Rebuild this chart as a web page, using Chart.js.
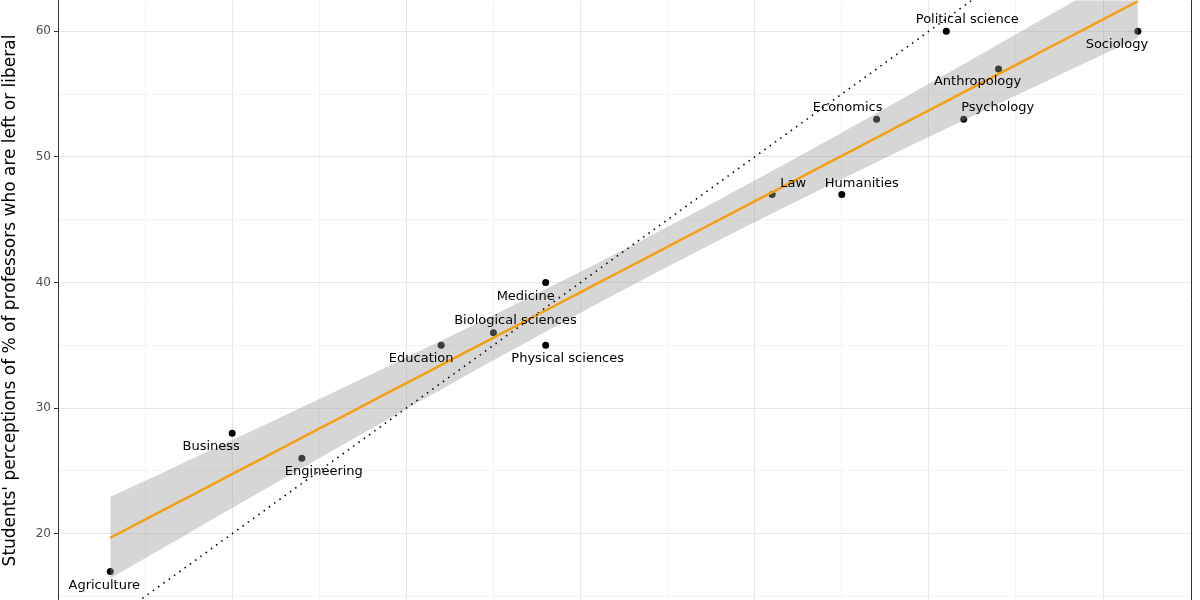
<!DOCTYPE html>
<html>
<head>
<meta charset="utf-8">
<script src="https://cdn.jsdelivr.net/npm/chart.js@4"></script>
<style>
  html, body { margin: 0; padding: 0; background: #fff; overflow: hidden; }
  #wrap { width: 1200px; height: 621px; margin-top: -10px; }
</style>
</head>
<body>
<div id="wrap"><canvas id="chart"></canvas></div>
<script>
// fields and their values (x = actual %, y = students' perceived %)
const fields = ['Agriculture', 'Business', 'Engineering', 'Education', 'Biological sciences', 'Medicine',
  'Physical sciences', 'Law', 'Humanities', 'Economics', 'Political science', 'Psychology', 'Anthropology', 'Sociology'];
const actualPct = [13, 20, 24, 32, 35, 38, 38, 51, 55, 57, 61, 62, 64, 72];
const perceivedPct = [17, 28, 26, 35, 36, 40, 35, 47, 47, 53, 60, 53, 57, 60];
const yTicks = [20, 30, 40, 50, 60];

// label placement relative to each point (pixels)
const labelDx = [-6, -21, 22, -20, 22, -20, 22, 21, 20, -29, 21, 34, -21, -21];
const labelDy = [14, 13, 13, 13, -12, 14, 13, -11, -11, -12, -12, -12, 13, 13];

// linear fit with 95% confidence band, like geom_smooth(method = "lm")
const n = actualPct.length;
const mx = actualPct.reduce((a, b) => a + b, 0) / n;
const my = perceivedPct.reduce((a, b) => a + b, 0) / n;
let sxx = 0, sxy = 0;
actualPct.forEach((x, i) => { sxx += (x - mx) ** 2; sxy += (x - mx) * (perceivedPct[i] - my); });
const slope = sxy / sxx;
const icpt = my - slope * mx;
let sse = 0;
actualPct.forEach((x, i) => { sse += (perceivedPct[i] - icpt - slope * x) ** 2; });
const sigma = Math.sqrt(sse / (n - 2));
const tCrit = 2.179;
const xMin = Math.min(...actualPct), xMax = Math.max(...actualPct);
const fit = [], upper = [], lower = [];
for (let k = 0; k <= 40; k++) {
  const x = xMin + (xMax - xMin) * k / 40;
  const yh = icpt + slope * x;
  const se = sigma * Math.sqrt(1 / n + (x - mx) ** 2 / sxx);
  fit.push({ x, y: yh });
  upper.push({ x, y: yh + tCrit * se });
  lower.push({ x, y: yh - tCrit * se });
}
const identity = [{ x: 10, y: 10 }, { x: 75, y: 75 }];

const labelPlugin = {
  id: 'pointLabels',
  afterDatasetsDraw(chart) {
    const { ctx, scales } = chart;
    ctx.save();
    ctx.font = '13px "DejaVu Sans"';
    ctx.fillStyle = '#000';
    ctx.textAlign = 'center';
    ctx.textBaseline = 'middle';
    fields.forEach((f, i) => {
      const px = scales.x.getPixelForValue(actualPct[i]);
      const py = scales.y.getPixelForValue(perceivedPct[i]);
      ctx.fillText(f, px + labelDx[i], py + labelDy[i]);
    });
    ctx.restore();
  }
};

const gridCol = (ctx) => (ctx.tick && ctx.tick.value % 10 === 0) ? '#e6e6e6' : '#f3f3f3';

new Chart(document.getElementById('chart'), {
  type: 'scatter',
  data: {
    datasets: [
      { data: actualPct.map((x, i) => ({ x, y: perceivedPct[i] })), backgroundColor: '#000', borderWidth: 0, pointRadius: 3.5, order: 5 },
      { type: 'line', data: lower, pointRadius: 0, borderWidth: 0, fill: false, order: 3 },
      { type: 'line', data: upper, pointRadius: 0, borderWidth: 0, fill: '-1', backgroundColor: 'rgba(153,153,153,0.4)', order: 3 },
      { type: 'line', data: fit, pointRadius: 0, borderColor: '#f5a00f', borderWidth: 2.5, fill: false, order: 1 },
      { type: 'line', data: identity, pointRadius: 0, borderColor: '#000', borderWidth: 1.6, borderDash: [1.5, 5], fill: false, order: 2 }
    ]
  },
  options: {
    responsive: true,
    maintainAspectRatio: false,
    animation: false,
    layout: { padding: { top: 0, right: 9, bottom: 0, left: 0 } },
    plugins: { legend: { display: false }, tooltip: { enabled: false } },
    scales: {
      x: {
        type: 'linear', min: 10, max: 75.05,
        ticks: { display: false, stepSize: 5 },
        grid: { color: gridCol, drawTicks: false },
        border: { color: '#333', width: 1 }
      },
      y: {
        type: 'linear', min: 14.66, max: 62.47,
        afterBuildTicks: (ax) => { ax.ticks = [15, 20, 25, 30, 35, 40, 45, 50, 55, 60].map(v => ({ value: v })); },
        afterFit: (ax) => { ax.width = 58; },
        ticks: {
          color: '#4d4d4d', font: { family: 'DejaVu Sans', size: 12 }, padding: 3,
          callback: (v) => yTicks.includes(v) ? String(v) : ''
        },
        grid: {
          color: gridCol, tickLength: 4,
          tickColor: (ctx) => (ctx.tick && ctx.tick.value % 10 === 0) ? '#333' : 'rgba(0,0,0,0)'
        },
        border: { color: '#333', width: 1 },
        title: {
          display: true, text: "Students' perceptions of % of professors who are left or liberal",
          color: '#000', font: { family: 'DejaVu Sans', size: 17 }, padding: { top: 0, bottom: 2 }
        }
      }
    }
  },
  plugins: [labelPlugin, {
    id: 'rightBorder',
    afterDraw(chart) {
      const { ctx, chartArea } = chart;
      ctx.save();
      ctx.strokeStyle = '#333';
      ctx.lineWidth = 1;
      ctx.beginPath();
      ctx.moveTo(chartArea.right + 0.5, chartArea.top);
      ctx.lineTo(chartArea.right + 0.5, chartArea.bottom);
      ctx.stroke();
      ctx.restore();
    }
  }]
});
</script>
</body>
</html>
